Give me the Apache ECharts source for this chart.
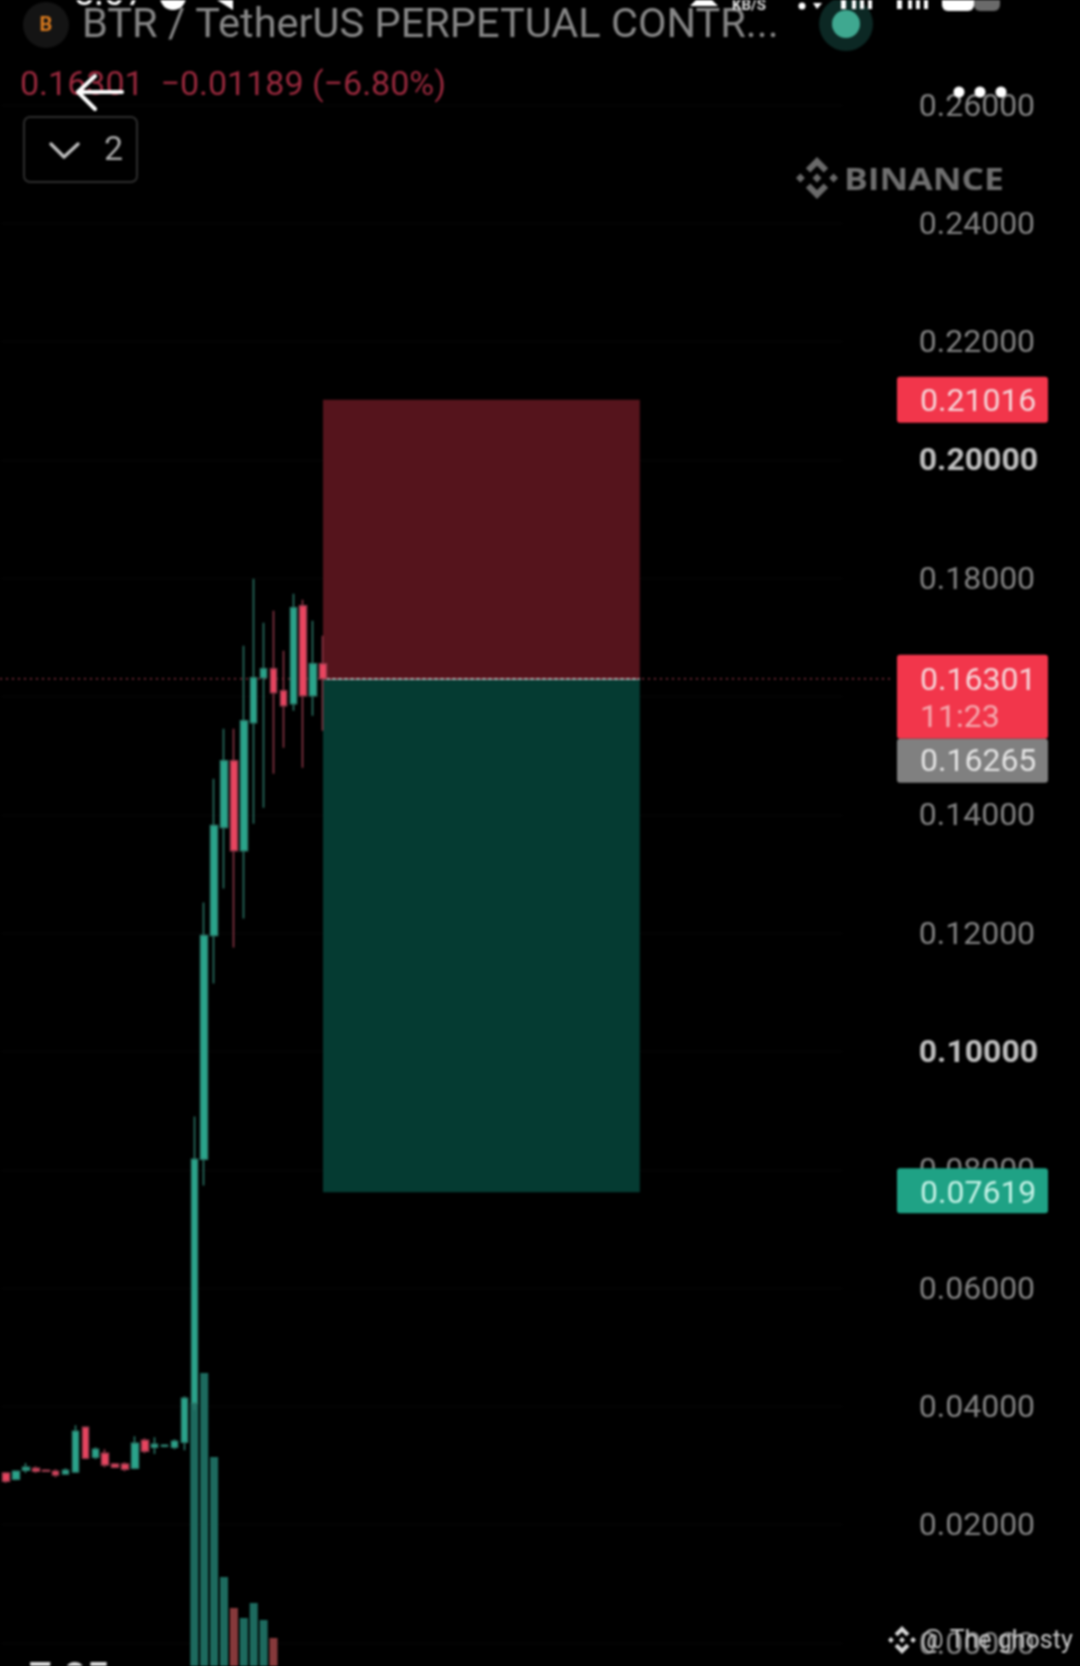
<!DOCTYPE html>
<html>
<head>
<meta charset="utf-8">
<style>html,body{margin:0;padding:0;background:#000;overflow:hidden}#c{width:1080px;height:1666px;filter:blur(0.8px)}</style>
<script src="https://cdn.jsdelivr.net/npm/echarts@6/dist/echarts.min.js"></script>
</head>
<body>
<div id="c"></div>
<script>
// open, close, low, high, oldest first
const candles = [
 [.02872,.02736,.02703,.02889],[.02770,.02905,.02753,.02922],[.02922,.02973,.02872,.03041],
 [.02956,.02905,.02872,.02990],[.02922,.02905,.02889,.02939],[.02905,.02838,.02804,.02939],
 [.02855,.02922,.02838,.02956],[.02889,.03581,.02872,.03682],[.03649,.03125,.03108,.03666],
 [.03142,.03277,.03108,.03311],[.03209,.03007,.02973,.03277],[.03024,.02973,.02956,.03041],
 [.03024,.02939,.02905,.03057],[.02956,.03378,.02939,.03497],[.03429,.03243,.03209,.03463],
 [.03311,.03361,.03193,.03480],[.03328,.03345,.03311,.03361],[.03311,.03412,.03277,.03446],
 [.03395,.04139,.03260,.04172],[.04054,.08176,.03936,.08902],[.08176,.11959,.07736,.12517],
 [.11959,.13818,.11149,.14611],[.13784,.14916,.12753,.15456],[.14916,.13395,.11757,.15456],
 [.13395,.15591,.12247,.16858],[.15557,.16318,.13851,.17990],[.16318,.16470,.14122,.17247],
 [.16470,.16064,.14696,.17449],[.16098,.15845,.15135,.16774],[.15878,.17500,.15760,.17736],
 [.17534,.16014,.14797,.17635],[.16014,.16554,.15676,.17280],[.16554,.16301,.15422,.17027]
];
const volumes = [0,0,0,0,0,0,0,0,0,0,0,0,0,0,0,0,0,0,0,263,293,209,89,58,48,63,46,28,0,0,0,0,0];
const slotCount = 85;
const categories = Array.from({length: slotCount}, (_, i) => 'b' + i);
const boldTicks = [.10,.20];
const stopPrice = 0.21016, lastPrice = 0.16301, markPrice = 0.16265, targetPrice = 0.07619;
const countdown = '11:23';
const positionStart = 'b32', positionEnd = 'b64';
const titleText = 'BTR / TetherUS PERPETUAL CONTR...';
const quoteText = '0.16301  \u22120.01189 (\u22126.80%)';

const UP = '#2aa58c', DOWN = '#ea4560', FONT = 'Roboto';
const tags = [
 {price: stopPrice, fill: '#f2364b', top: -23, h: 46, lines: [[stopPrice.toFixed(5), 3, '#f6d5d8']]},
 {price: lastPrice, fill: '#f2364b', top: -24, h: 84, lines: [[lastPrice.toFixed(5), 3, '#f6d5d8'], [countdown, 40, '#f4a9ae']]},
 {price: lastPrice, fill: '#808080', top: 60, h: 44, lines: [[markPrice.toFixed(5), 84, '#e4e4e4']]},
 {price: targetPrice, fill: '#1fa285', top: -24, h: 45, lines: [[targetPrice.toFixed(5), 3, '#c4f2e6']]}
];

function logo(cx, cy, r, fill) {
 const P = pts => ({type:'polygon', shape:{points:pts.map(p=>[cx+p[0]*r, cy+p[1]*r])}, style:{fill}});
 const D = (x,y,s) => P([[x,y-s],[x+s,y],[x,y+s],[x-s,y]]);
 return [
  P([[0,-1],[.53,-.47],[.32,-.26],[0,-.58],[-.32,-.26],[-.53,-.47]]),
  P([[0,1],[.53,.47],[.32,.26],[0,.58],[-.32,.26],[-.53,.47]]),
  D(0,0,.21), D(-.79,0,.21), D(.79,0,.21)
 ];
}
const T = (text,x,y,size,fill,extra={}) => ({type:'text', x, y, scaleX:extra.scaleX||1, scaleY:1, style:{text,fill,font:`${extra.weight||'normal'} ${size}px ${extra.family||FONT}`,verticalAlign:'middle',align:extra.align||'left'}});
const C = (cx,cy,r,fill) => ({type:'circle', shape:{cx,cy,r}, style:{fill}});
const L = (points,stroke,lineWidth) => ({type:'polyline', shape:{points}, style:{stroke,lineWidth,fill:'none',lineCap:'round',lineJoin:'round'}});
const R = (x,y,width,height,fill,r=0) => ({type:'rect', shape:{x,y,width,height,r}, style:{fill}});
const G = (points,fill) => ({type:'polygon', shape:{points}, style:{fill}});

const chrome = [
 // header
 C(46,25,23,'#141414'), T('B',46,26,20,'#d97a1e',{weight:'bold',align:'center'}),
 T(titleText,82,27,41.5,'#868686'),
 C(846,24,27,'#0c2824'), C(846,24,14,'#3fa890'),
 T(quoteText,20,86,34,'#97283c'),
 L([[95,76],[78,92],[95,109]],'#fff',4), L([[78,92],[122,92]],'#fff',4),
 {type:'rect',shape:{x:24,y:117,width:113,height:65,r:6},style:{fill:'none',stroke:'#2e2e2e',lineWidth:2}},
 L([[51,144],[64,157],[78,144]],'#bbb',3.5), T('2',104,151,34,'#a8a8a8'),
 C(959,92,5.5,'#fff'),C(980,92,5.5,'#fff'),C(1001,92,5.5,'#fff'),
 // status bar, cut by the top edge
 T('5:07',73,-5,38,'#fff'),
 C(173,-3,13,'#fff'), G([[217,0],[233,0],[233,10]],'#fff'),
 T('KB/S',732,6,15,'#ddd',{weight:'bold'}),
 G([[690,6],[718,6],[704,-8]],'#fff'), C(802,6,3.5,'#fff'), G([[813,3],[822,3],[817,9]],'#fff'),
 R(841,0,5,9,'#fff'),R(852,0,4,9,'#fff'),R(860,0,4,9,'#fff'),R(868,0,4,9,'#fff'),
 R(897,0,5,9,'#fff'),R(908,0,4,9,'#fff'),R(916,0,4,9,'#fff'),R(924,0,4,9,'#fff'),
 R(942,-10,32,21,'#fff',6), R(974,-10,26,21,'#6a6a6a',6),
 // brand mark
 ...logo(817,178,21,'#6a6a6a'),
 T('BINANCE',844,181,30,'#6f6f6f',{weight:'bold',family:'Open Sans',scaleX:1.18}),
 // watermark
 ...logo(902,1640,14,'#d6d6d6'),
 T('@ The ghosty',921,1642,25,'#c8c8c8'),
 // cut-off caption at the bottom
 T('7:05',29,1681,40,'#dcdcdc',{weight:'bold'})
];

const chart = echarts.init(document.getElementById('c'), null, {renderer:'canvas', width:1080, height:1666});
chart.setOption({
 backgroundColor:'#000',
 animation:false,
 grid:[
  {left:1.25, width:841.5, top:105, bottom:23},
  {left:1.25, width:841.5, top:1366, bottom:0}
 ],
 xAxis:[
  {type:'category', data:categories, gridIndex:0, show:false},
  {type:'category', data:categories, gridIndex:1, show:false}
 ],
 yAxis:[
  {type:'value', gridIndex:0, position:'right', min:0, max:.26, interval:.02,
   axisLine:{show:false}, axisTick:{show:false},
   splitLine:{show:true, lineStyle:{color:'#070707', width:1}},
   axisLabel:{margin:76, fontFamily:FONT, fontSize:32, color:'#828282', showMinLabel:true, showMaxLabel:true, padding:[5,0,0,0],
    formatter:v=>{const s=v.toFixed(5); return boldTicks.some(t=>Math.abs(t-v)<1e-6)?`{b|${s}}`:s;},
    rich:{b:{fontFamily:FONT,fontSize:32,fontWeight:'bold',color:'#bdbdbd'}}}},
  {type:'value', gridIndex:1, min:0, max:300, show:false}
 ],
 series:[
  {type:'line', name:'Position', xAxisIndex:0, yAxisIndex:0, z:1, data:[], showSymbol:false,
   markArea:{silent:true, z:1, label:{show:false}, emphasis:{disabled:true}, data:[
    [{xAxis:positionStart,yAxis:stopPrice,itemStyle:{color:'#55141c',opacity:1}},{xAxis:positionEnd,yAxis:lastPrice}],
    [{xAxis:positionStart,yAxis:lastPrice,itemStyle:{color:'#053b32',opacity:1}},{xAxis:positionEnd,yAxis:targetPrice}]
   ]},
   markLine:{silent:true, symbol:'none', label:{show:false}, animation:false, z:2, data:[
    [{xAxis:positionStart,yAxis:lastPrice,lineStyle:{color:'#a9a9a9',type:'solid',width:2}},{xAxis:positionEnd,yAxis:lastPrice}]
   ]}},
  {type:'bar', name:'Volume', xAxisIndex:1, yAxisIndex:1, z:2, barWidth:8,
   data:volumes.map((v,i)=>({value:v,itemStyle:{color:candles[i][1]>=candles[i][0]?'#1d6a5e':'#86393b'}}))},
  {type:'candlestick', name:'Price', xAxisIndex:0, yAxisIndex:0, z:5, barWidth:7,
   data:candles,
   itemStyle:{color:UP,color0:DOWN,borderColor:'#2c7c6c',borderColor0:'#93394a',borderWidth:1.5}},
  {type:'custom', name:'Price tags', xAxisIndex:0, yAxisIndex:0, z:10, clip:false, silent:true,
   data:tags.map(t=>[0,t.price]),
   encode:{x:0,y:1},
   renderItem:(p,api)=>{
    const t=tags[p.dataIndex], y=api.coord([0,api.value(1)])[1], children=[
     {type:'rect',shape:{x:897,y:y+t.top,width:151,height:t.h,r:3},style:{fill:t.fill}}
    ];
    t.lines.forEach(l=>children.push({type:'text',style:{x:920,y:y+l[1],text:l[0],fill:l[2],font:`32px ${FONT}`,verticalAlign:'middle',align:'left'}}));
    return {type:'group',children};
   }},
  {type:'custom', name:'Last price line', xAxisIndex:0, yAxisIndex:0, z:3, clip:false, silent:true,
   data:[[0,lastPrice]],
   encode:{x:0,y:1},
   renderItem:(p,api)=>{
    const y=api.coord([0,api.value(1)])[1];
    return {type:'line',shape:{x1:0,y1:y,x2:893,y2:y},style:{stroke:'#8a3040',lineWidth:1.5,lineDash:[2,4]}};
   }}
 ],
 graphic:{elements:chrome.map(e=>Object.assign({z:20,silent:true},e))}
});
</script>
</body>
</html>
